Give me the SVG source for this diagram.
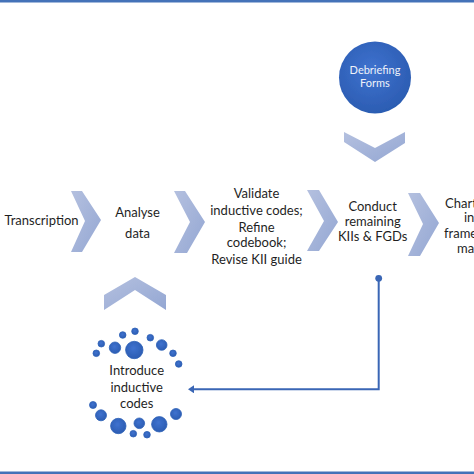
<svg xmlns="http://www.w3.org/2000/svg" width="474" height="474" viewBox="0 0 474 474">
<style>
text{font-family:"Lato","Liberation Sans",sans-serif;fill:#1f1f1f;font-size:13px;text-anchor:middle}
.w{fill:#eef2fa;font-size:11px}
.s{text-anchor:start}
.c{fill:url(#ch);filter:url(#soft)}
.d{fill:url(#dot);stroke:#2f62b8;stroke-width:.8;filter:url(#soft)}
</style>
<defs>
<linearGradient id="ch" x1="0" y1="0" x2="1" y2="1"><stop offset="0" stop-color="#b4c0df"/><stop offset="1" stop-color="#94a7d3"/></linearGradient>
<radialGradient id="dot" cx=".45" cy=".4" r=".65"><stop offset="0" stop-color="#3f72cf"/><stop offset="1" stop-color="#2a5bb0"/></radialGradient>
<filter id="soft" x="-20%" y="-20%" width="140%" height="140%"><feGaussianBlur stdDeviation=".5"/></filter>
<marker id="ah" viewBox="0 0 6 8" refX="1" refY="4" markerWidth="6" markerHeight="8" markerUnits="userSpaceOnUse" orient="auto"><path d="M0 0L6 4L0 8Z" fill="#3a66b5"/></marker>
</defs>
<rect width="474" height="474" fill="#fff"/>
<rect width="474" height="2.500" fill="#4472b8"/>
<rect y="471.500" width="474" height="2.500" fill="#4472b8"/>

<g id="connectors">
<path d="M378.700 278.300V389.300H193" fill="none" stroke="#3a66b5" stroke-width="2" marker-end="url(#ah)"/>
<circle cx="378.700" cy="278.300" r="3.400" fill="#3a66b5"/>
</g>

<g id="node-transcription"><text x="41.500" y="225">Transcription</text></g>
<g id="chevron-1"><path class="c" d="M71 191H82L101 220L82 252H71L85 221Z"/></g>
<g id="node-analyse"><text x="137.500" y="217">Analyse</text><text x="137.500" y="238">data</text></g>
<g id="chevron-2"><path class="c" d="M174 191H185L205 222L187 253H174L190 222Z"/></g>
<g id="node-validate"><text x="256.500" y="198">Validate</text><text x="256.500" y="215">inductive codes;</text><text x="256.500" y="232">Refine</text><text x="256.500" y="247">codebook;</text><text x="256.500" y="264">Revise KII guide</text></g>
<g id="chevron-3"><path class="c" d="M307 190H319L338 222L319 251H307L324 221Z"/></g>
<g id="node-conduct"><text x="372.700" y="211">Conduct</text><text x="372.700" y="226">remaining</text><text x="372.700" y="241">KIIs &amp; FGDs</text></g>
<g id="chevron-4"><path class="c" d="M408 193H420L439 223L420 256H408L423 224Z"/></g>
<g id="node-charting"><text class="s" x="445" y="208">Chart</text><text class="s" x="464" y="222">in</text><text class="s" x="444" y="238">frame</text><text class="s" x="457" y="253">ma</text></g>

<g id="node-debriefing"><circle cx="375" cy="77.500" r="36" fill="url(#dot)" filter="url(#soft)"/><text class="w" x="375" y="74">Debriefing</text><text class="w" x="375" y="87">Forms</text></g>
<g id="chevron-down"><path class="c" d="M344 132L375 148L405 132V143L375 162L344 142Z"/></g>
<g id="chevron-up"><path class="c" d="M135 277L166 295V310L135 290L104 310V295Z"/></g>

<g id="node-introduce">
<circle class="d" cx="134.300" cy="350" r="8.700"/><circle class="d" cx="115" cy="347.700" r="5.700"/><circle class="d" cx="122.700" cy="335" r="3.300"/><circle class="d" cx="135" cy="331.300" r="3.300"/><circle class="d" cx="150.300" cy="337.700" r="3.300"/><circle class="d" cx="161.700" cy="345" r="5.300"/><circle class="d" cx="173" cy="353.300" r="3.300"/><circle class="d" cx="178.700" cy="364" r="3.300"/><circle class="d" cx="101.300" cy="343.700" r="3.300"/><circle class="d" cx="96.300" cy="353.300" r="3.300"/>
<circle class="d" cx="93" cy="405" r="3.500"/><circle class="d" cx="101" cy="415.300" r="5.500"/><circle class="d" cx="118.300" cy="426" r="7.700"/><circle class="d" cx="139.300" cy="423.300" r="5.300"/><circle class="d" cx="133.300" cy="433.700" r="3.300"/><circle class="d" cx="147" cy="434.700" r="3.300"/><circle class="d" cx="159.300" cy="424.300" r="7.700"/><circle class="d" cx="176" cy="414" r="5.500"/>
<text x="136.700" y="375">Introduce</text><text x="136.700" y="391.700">inductive</text><text x="136.700" y="407.700">codes</text>
</g>
</svg>
